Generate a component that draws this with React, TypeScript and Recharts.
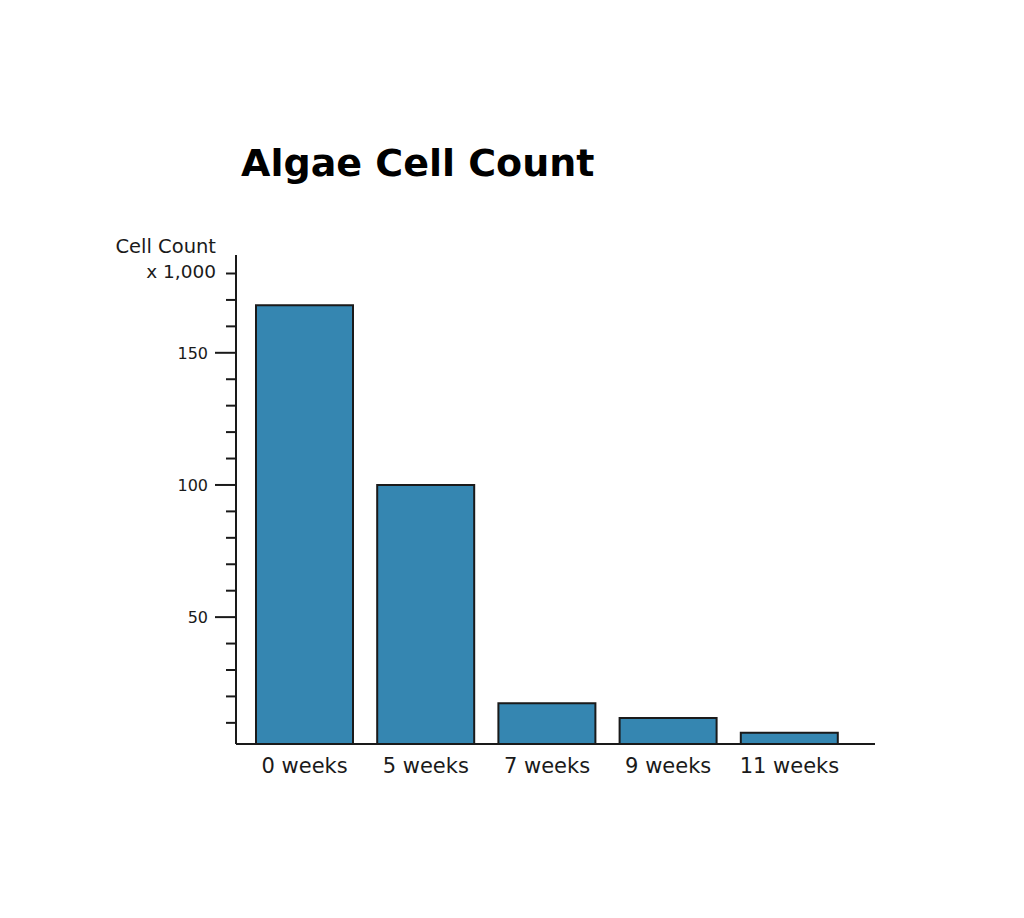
import { BarChart, Bar, XAxis, YAxis } from "recharts";

const weeks = ["0 weeks", "5 weeks", "7 weeks", "9 weeks", "11 weeks"];
const cellCounts = [168, 100, 17.4, 11.8, 6.3];
const yTicks = [10, 20, 30, 40, 50, 60, 70, 80, 90, 100, 110, 120, 130, 140, 150, 160, 170, 180];
const yTickLabels: Record<number, string> = { 50: "50", 100: "100", 150: "150", 180: "x 1,000" };

const data = weeks.map((w, i) => ({ week: w, count: cellCounts[i] }));

const FONT = "'DejaVu Sans', sans-serif";
const INK = "#1a1a1a";

const YTick = (props: any) => {
  const { x, y, payload } = props;
  const v = payload.value;
  const label = yTickLabels[v];
  const major = v % 50 === 0;
  const len = major ? 21 : 10;
  const isUnit = v === 180;
  return (
    <g>
      <line x1={x - len} y1={y} x2={x} y2={y} stroke={INK} strokeWidth={2} />
      {label && (
        <text
          x={x - len - (isUnit ? 10 : 7)}
          y={y}
          dy={isUnit ? 4 : 5.8}
          textAnchor="end"
          fontFamily={FONT}
          fontSize={isUnit ? 18.5 : 16}
          fill={INK}
        >
          {label}
        </text>
      )}
    </g>
  );
};

const XTick = (props: any) => {
  const { x, y, payload } = props;
  return (
    <text x={x} y={y} dy={28.5} textAnchor="middle" fontFamily={FONT} fontSize={21} fill={INK}>
      {payload.value}
    </text>
  );
};

const AxisTitle = (props: any) => {
  const vb = props.viewBox || { x: 136, y: 255, width: 100 };
  return (
    <text
      x={vb.x + vb.width - 20}
      y={vb.y - 2.5}
      textAnchor="end"
      fontFamily={FONT}
      fontSize={19.5}
      fill={INK}
    >
      Cell Count
    </text>
  );
};

export default function App() {
  return (
    <div style={{ position: "absolute", left: 0, top: 0, width: 1024, height: 918, background: "#fff" }}>
      <div
        style={{
          position: "absolute",
          left: 241,
          top: 140,
          fontFamily: FONT,
          fontWeight: "bold",
          fontSize: 38,
          lineHeight: "46px",
          color: "#000",
          whiteSpace: "nowrap",
        }}
      >
        Algae Cell Count
      </div>
      <BarChart
        width={1024}
        height={918}
        data={data}
        margin={{ top: 255, right: 149, bottom: 134, left: 136 }}
      >
        <XAxis
          dataKey="week"
          height={40}
          padding={{ left: 8, right: 25 }}
          tickLine={false}
          tickSize={0}
          tickMargin={0}
          tick={<XTick />}
          axisLine={{ stroke: INK, strokeWidth: 2 }}
          interval={0}
        />
        <YAxis
          type="number"
          width={100}
          domain={[2, 187]}
          ticks={yTicks}
          interval={0}
          tickLine={false}
          tickSize={0}
          tickMargin={0}
          tick={<YTick />}
          axisLine={{ stroke: INK, strokeWidth: 2 }}
          label={<AxisTitle />}
        />
        <Bar
          dataKey="count"
          fill="#3586b1"
          stroke={INK}
          strokeWidth={2}
          barSize={97}
          isAnimationActive={false}
        />
      </BarChart>
    </div>
  );
}
